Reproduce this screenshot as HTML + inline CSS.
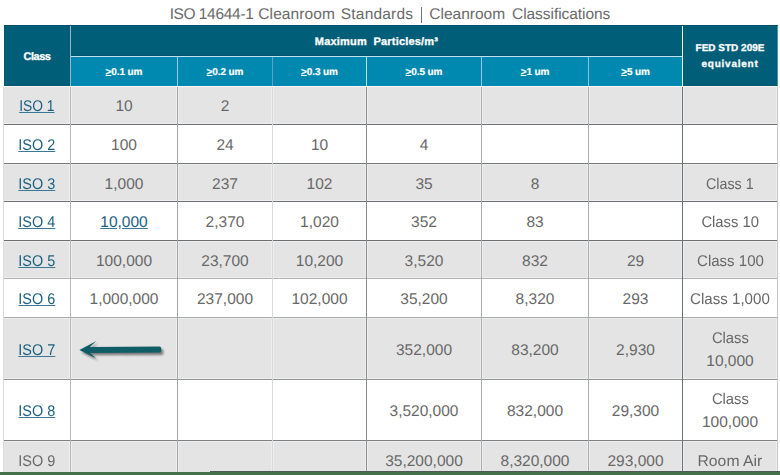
<!DOCTYPE html>
<html><head><meta charset="utf-8">
<style>
html,body{margin:0;padding:0;background:#fff;width:780px;height:475px;overflow:hidden;}
body{position:relative;font-family:"Liberation Sans",sans-serif;text-rendering:geometricPrecision;}
.a{position:absolute;}
.t{position:absolute;text-align:center;color:#686868;font-size:15.5px;white-space:nowrap;}
.lk{color:#1c6182;text-decoration:underline;text-decoration-color:#3a7896;text-underline-offset:1px;}
.h{position:absolute;text-align:center;color:#fff;font-weight:bold;white-space:nowrap;-webkit-text-stroke:0.3px #fff;}
</style></head><body>

<div class="t" style="left:169.8px;top:5px;line-height:20px;font-size:15.5px;color:#6a6a6a;text-align:left;letter-spacing:-0.5px">ISO</div>
<div class="t" style="left:198.8px;top:5px;line-height:20px;font-size:15.5px;color:#6a6a6a;text-align:left;letter-spacing:-0.3px">14644-1</div>
<div class="t" style="left:258.3px;top:5px;line-height:20px;font-size:15.5px;color:#6a6a6a;text-align:left;letter-spacing:0.1px">Cleanroom</div>
<div class="t" style="left:340.8px;top:5px;line-height:20px;font-size:15.5px;color:#6a6a6a;text-align:left;letter-spacing:0.2px">Standards</div>
<div class="t" style="left:429.3px;top:5px;line-height:20px;font-size:15.5px;color:#6a6a6a;text-align:left;letter-spacing:0px">Cleanroom</div>
<div class="t" style="left:512.0px;top:5px;line-height:20px;font-size:15.5px;color:#6a6a6a;text-align:left;letter-spacing:-0.05px">Classifications</div>
<div class="a" style="left:421px;top:7px;width:1.3px;height:15.5px;background:#707070"></div>
<div class="a" style="left:4px;top:25px;width:774px;height:61px;background:#005e79"></div>
<div class="a" style="left:71px;top:57px;width:611px;height:29px;background:#0089b0"></div>
<div class="a" style="left:71px;top:56px;width:611px;height:1px;background:#bfe2ee"></div>
<div class="a" style="left:70px;top:25px;width:1px;height:61px;background:#9bb6c6"></div>
<div class="a" style="left:682px;top:25px;width:1px;height:61px;background:#e8f2f4"></div>
<div class="a" style="left:177px;top:57px;width:1px;height:29px;background:#9cc8ea"></div>
<div class="a" style="left:272px;top:57px;width:1px;height:29px;background:#5fa3c2"></div>
<div class="a" style="left:366px;top:57px;width:1px;height:29px;background:#b8e0ee"></div>
<div class="a" style="left:481px;top:57px;width:1px;height:29px;background:#98c4e6"></div>
<div class="a" style="left:588px;top:57px;width:1px;height:29px;background:#8cc0e0"></div>
<div class="a" style="left:4px;top:25px;width:774px;height:1px;background:#00516b"></div>
<div class="a" style="left:4px;top:26px;width:1px;height:60px;background:#00586f"></div>
<div class="a" style="left:777px;top:26px;width:1px;height:60px;background:#4a98b0"></div>
<div class="a" style="left:776px;top:26px;width:1px;height:60px;background:#005873"></div>
<div class="a" style="left:5px;top:85px;width:65px;height:1px;background:#00566f"></div>
<div class="a" style="left:683px;top:85px;width:93px;height:1px;background:#00566f"></div>
<div class="a" style="left:71px;top:55px;width:611px;height:1px;background:#00566f"></div>
<div class="h" style="left:4px;width:66px;top:49px;line-height:16px;font-size:11px;letter-spacing:-0.5px">Class</div>
<div class="h" style="left:71px;width:611px;top:34px;line-height:16px;font-size:11px;letter-spacing:0.2px">Maximum&nbsp; Particles/m&sup3;</div>
<div class="h" style="left:71px;width:106px;top:65px;line-height:16px;font-size:10px;letter-spacing:-0.1px;-webkit-text-stroke:0.2px #fff"><u style="text-underline-offset:0px">&gt;</u>0.1 um</div>
<div class="h" style="left:178px;width:94px;top:65px;line-height:16px;font-size:10px;letter-spacing:-0.1px;-webkit-text-stroke:0.2px #fff"><u style="text-underline-offset:0px">&gt;</u>0.2 um</div>
<div class="h" style="left:273px;width:93px;top:65px;line-height:16px;font-size:10px;letter-spacing:-0.1px;-webkit-text-stroke:0.2px #fff"><u style="text-underline-offset:0px">&gt;</u>0.3 um</div>
<div class="h" style="left:367px;width:114px;top:65px;line-height:16px;font-size:10px;letter-spacing:-0.1px;-webkit-text-stroke:0.2px #fff"><u style="text-underline-offset:0px">&gt;</u>0.5 um</div>
<div class="h" style="left:482px;width:106px;top:65px;line-height:16px;font-size:10px;letter-spacing:-0.1px;-webkit-text-stroke:0.2px #fff"><u style="text-underline-offset:0px">&gt;</u>1 um</div>
<div class="h" style="left:589px;width:93px;top:65px;line-height:16px;font-size:10px;letter-spacing:-0.1px;-webkit-text-stroke:0.2px #fff"><u style="text-underline-offset:0px">&gt;</u>5 um</div>
<div class="h" style="left:683px;width:94px;top:41px;line-height:16px;font-size:10px">FED STD 209E<br><span style="letter-spacing:0.75px">equivalent</span></div>
<div class="a" style="left:3px;top:86px;width:775px;height:1px;background:#fbf6f4"></div>
<div class="a" style="left:3px;top:87px;width:775px;height:37px;background:#e4e4e4"></div>
<div class="a" style="left:3px;top:125px;width:775px;height:38px;background:#ffffff"></div>
<div class="a" style="left:3px;top:164px;width:775px;height:37px;background:#e4e4e4"></div>
<div class="a" style="left:3px;top:202px;width:775px;height:38px;background:#ffffff"></div>
<div class="a" style="left:3px;top:241px;width:775px;height:37px;background:#e4e4e4"></div>
<div class="a" style="left:3px;top:279px;width:775px;height:38px;background:#ffffff"></div>
<div class="a" style="left:3px;top:318px;width:775px;height:61px;background:#e4e4e4"></div>
<div class="a" style="left:3px;top:380px;width:775px;height:60px;background:#ffffff"></div>
<div class="a" style="left:3px;top:441px;width:775px;height:31px;background:#e4e4e4"></div>
<div class="a" style="left:4px;top:124px;width:774px;height:1px;background:#6d7175"></div>
<div class="a" style="left:4px;top:163px;width:774px;height:1px;background:#75797c"></div>
<div class="a" style="left:4px;top:201px;width:774px;height:1px;background:#6d7175"></div>
<div class="a" style="left:4px;top:240px;width:774px;height:1px;background:#6b6f72"></div>
<div class="a" style="left:4px;top:278px;width:774px;height:1px;background:#b1b2b4"></div>
<div class="a" style="left:4px;top:317px;width:774px;height:1px;background:#a9acae"></div>
<div class="a" style="left:4px;top:379px;width:774px;height:1px;background:#939699"></div>
<div class="a" style="left:4px;top:440px;width:774px;height:1px;background:#7d8184"></div>
<div class="a" style="left:4px;top:123px;width:773px;height:1px;background:#efefef"></div>
<div class="a" style="left:4px;top:164px;width:773px;height:1px;background:#eeeeee"></div>
<div class="a" style="left:4px;top:200px;width:773px;height:1px;background:#efefef"></div>
<div class="a" style="left:4px;top:241px;width:773px;height:1px;background:#eeeeee"></div>
<div class="a" style="left:4px;top:277px;width:773px;height:1px;background:#efefef"></div>
<div class="a" style="left:4px;top:318px;width:773px;height:1px;background:#eeeeee"></div>
<div class="a" style="left:4px;top:378px;width:773px;height:1px;background:#efefef"></div>
<div class="a" style="left:4px;top:441px;width:773px;height:1px;background:#eeeeee"></div>
<div class="a" style="left:69px;top:87px;width:1px;height:37px;background:#eeeeee"></div>
<div class="a" style="left:71px;top:87px;width:1px;height:37px;background:#eeeeee"></div>
<div class="a" style="left:176px;top:87px;width:1px;height:37px;background:#eeeeee"></div>
<div class="a" style="left:178px;top:87px;width:1px;height:37px;background:#eeeeee"></div>
<div class="a" style="left:271px;top:87px;width:1px;height:37px;background:#eeeeee"></div>
<div class="a" style="left:273px;top:87px;width:1px;height:37px;background:#eeeeee"></div>
<div class="a" style="left:365px;top:87px;width:1px;height:37px;background:#eeeeee"></div>
<div class="a" style="left:367px;top:87px;width:1px;height:37px;background:#eeeeee"></div>
<div class="a" style="left:480px;top:87px;width:1px;height:37px;background:#eeeeee"></div>
<div class="a" style="left:482px;top:87px;width:1px;height:37px;background:#eeeeee"></div>
<div class="a" style="left:587px;top:87px;width:1px;height:37px;background:#eeeeee"></div>
<div class="a" style="left:589px;top:87px;width:1px;height:37px;background:#eeeeee"></div>
<div class="a" style="left:681px;top:87px;width:1px;height:37px;background:#eeeeee"></div>
<div class="a" style="left:683px;top:87px;width:1px;height:37px;background:#eeeeee"></div>
<div class="a" style="left:776px;top:87px;width:1px;height:37px;background:#eeeeee"></div>
<div class="a" style="left:69px;top:164px;width:1px;height:37px;background:#eeeeee"></div>
<div class="a" style="left:71px;top:164px;width:1px;height:37px;background:#eeeeee"></div>
<div class="a" style="left:176px;top:164px;width:1px;height:37px;background:#eeeeee"></div>
<div class="a" style="left:178px;top:164px;width:1px;height:37px;background:#eeeeee"></div>
<div class="a" style="left:271px;top:164px;width:1px;height:37px;background:#eeeeee"></div>
<div class="a" style="left:273px;top:164px;width:1px;height:37px;background:#eeeeee"></div>
<div class="a" style="left:365px;top:164px;width:1px;height:37px;background:#eeeeee"></div>
<div class="a" style="left:367px;top:164px;width:1px;height:37px;background:#eeeeee"></div>
<div class="a" style="left:480px;top:164px;width:1px;height:37px;background:#eeeeee"></div>
<div class="a" style="left:482px;top:164px;width:1px;height:37px;background:#eeeeee"></div>
<div class="a" style="left:587px;top:164px;width:1px;height:37px;background:#eeeeee"></div>
<div class="a" style="left:589px;top:164px;width:1px;height:37px;background:#eeeeee"></div>
<div class="a" style="left:681px;top:164px;width:1px;height:37px;background:#eeeeee"></div>
<div class="a" style="left:683px;top:164px;width:1px;height:37px;background:#eeeeee"></div>
<div class="a" style="left:776px;top:164px;width:1px;height:37px;background:#eeeeee"></div>
<div class="a" style="left:69px;top:241px;width:1px;height:37px;background:#eeeeee"></div>
<div class="a" style="left:71px;top:241px;width:1px;height:37px;background:#eeeeee"></div>
<div class="a" style="left:176px;top:241px;width:1px;height:37px;background:#eeeeee"></div>
<div class="a" style="left:178px;top:241px;width:1px;height:37px;background:#eeeeee"></div>
<div class="a" style="left:271px;top:241px;width:1px;height:37px;background:#eeeeee"></div>
<div class="a" style="left:273px;top:241px;width:1px;height:37px;background:#eeeeee"></div>
<div class="a" style="left:365px;top:241px;width:1px;height:37px;background:#eeeeee"></div>
<div class="a" style="left:367px;top:241px;width:1px;height:37px;background:#eeeeee"></div>
<div class="a" style="left:480px;top:241px;width:1px;height:37px;background:#eeeeee"></div>
<div class="a" style="left:482px;top:241px;width:1px;height:37px;background:#eeeeee"></div>
<div class="a" style="left:587px;top:241px;width:1px;height:37px;background:#eeeeee"></div>
<div class="a" style="left:589px;top:241px;width:1px;height:37px;background:#eeeeee"></div>
<div class="a" style="left:681px;top:241px;width:1px;height:37px;background:#eeeeee"></div>
<div class="a" style="left:683px;top:241px;width:1px;height:37px;background:#eeeeee"></div>
<div class="a" style="left:776px;top:241px;width:1px;height:37px;background:#eeeeee"></div>
<div class="a" style="left:69px;top:318px;width:1px;height:61px;background:#eeeeee"></div>
<div class="a" style="left:71px;top:318px;width:1px;height:61px;background:#eeeeee"></div>
<div class="a" style="left:176px;top:318px;width:1px;height:61px;background:#eeeeee"></div>
<div class="a" style="left:178px;top:318px;width:1px;height:61px;background:#eeeeee"></div>
<div class="a" style="left:271px;top:318px;width:1px;height:61px;background:#eeeeee"></div>
<div class="a" style="left:273px;top:318px;width:1px;height:61px;background:#eeeeee"></div>
<div class="a" style="left:365px;top:318px;width:1px;height:61px;background:#eeeeee"></div>
<div class="a" style="left:367px;top:318px;width:1px;height:61px;background:#eeeeee"></div>
<div class="a" style="left:480px;top:318px;width:1px;height:61px;background:#eeeeee"></div>
<div class="a" style="left:482px;top:318px;width:1px;height:61px;background:#eeeeee"></div>
<div class="a" style="left:587px;top:318px;width:1px;height:61px;background:#eeeeee"></div>
<div class="a" style="left:589px;top:318px;width:1px;height:61px;background:#eeeeee"></div>
<div class="a" style="left:681px;top:318px;width:1px;height:61px;background:#eeeeee"></div>
<div class="a" style="left:683px;top:318px;width:1px;height:61px;background:#eeeeee"></div>
<div class="a" style="left:776px;top:318px;width:1px;height:61px;background:#eeeeee"></div>
<div class="a" style="left:69px;top:441px;width:1px;height:31px;background:#eeeeee"></div>
<div class="a" style="left:71px;top:441px;width:1px;height:31px;background:#eeeeee"></div>
<div class="a" style="left:176px;top:441px;width:1px;height:31px;background:#eeeeee"></div>
<div class="a" style="left:178px;top:441px;width:1px;height:31px;background:#eeeeee"></div>
<div class="a" style="left:271px;top:441px;width:1px;height:31px;background:#eeeeee"></div>
<div class="a" style="left:273px;top:441px;width:1px;height:31px;background:#eeeeee"></div>
<div class="a" style="left:365px;top:441px;width:1px;height:31px;background:#eeeeee"></div>
<div class="a" style="left:367px;top:441px;width:1px;height:31px;background:#eeeeee"></div>
<div class="a" style="left:480px;top:441px;width:1px;height:31px;background:#eeeeee"></div>
<div class="a" style="left:482px;top:441px;width:1px;height:31px;background:#eeeeee"></div>
<div class="a" style="left:587px;top:441px;width:1px;height:31px;background:#eeeeee"></div>
<div class="a" style="left:589px;top:441px;width:1px;height:31px;background:#eeeeee"></div>
<div class="a" style="left:681px;top:441px;width:1px;height:31px;background:#eeeeee"></div>
<div class="a" style="left:683px;top:441px;width:1px;height:31px;background:#eeeeee"></div>
<div class="a" style="left:776px;top:441px;width:1px;height:31px;background:#eeeeee"></div>
<div class="a" style="left:70px;top:87px;width:1px;height:385px;background:#b8b8bb"></div>
<div class="a" style="left:177px;top:87px;width:1px;height:385px;background:#a2a5a8"></div>
<div class="a" style="left:272px;top:87px;width:1px;height:385px;background:#d7dadd"></div>
<div class="a" style="left:366px;top:87px;width:1px;height:385px;background:#8a8e91"></div>
<div class="a" style="left:481px;top:87px;width:1px;height:385px;background:#aaadb0"></div>
<div class="a" style="left:588px;top:87px;width:1px;height:385px;background:#aaadb0"></div>
<div class="a" style="left:682px;top:87px;width:1px;height:385px;background:#6b7075"></div>
<div class="a" style="left:777px;top:87px;width:1px;height:385px;background:#c6c7ca"></div>
<div class="a" style="left:3px;top:87px;width:1px;height:385px;background:#dadcde"></div>
<div class="t" style="left:3px;width:67px;top:97px;line-height:20px"><span class="lk" style="display:inline-block;transform:scaleX(0.892)">ISO 1</span></div>
<div class="t" style="left:71px;width:106px;top:97px;line-height:20px">10</div>
<div class="t" style="left:178px;width:94px;top:97px;line-height:20px">2</div>
<div class="t" style="left:3px;width:67px;top:136px;line-height:20px"><span class="lk" style="display:inline-block;transform:scaleX(0.932)">ISO 2</span></div>
<div class="t" style="left:71px;width:106px;top:136px;line-height:20px">100</div>
<div class="t" style="left:178px;width:94px;top:136px;line-height:20px">24</div>
<div class="t" style="left:273px;width:93px;top:136px;line-height:20px">10</div>
<div class="t" style="left:367px;width:114px;top:136px;line-height:20px">4</div>
<div class="t" style="left:3px;width:67px;top:175px;line-height:20px"><span class="lk" style="display:inline-block;transform:scaleX(0.932)">ISO 3</span></div>
<div class="t" style="left:71px;width:106px;top:175px;line-height:20px">1,000</div>
<div class="t" style="left:178px;width:94px;top:175px;line-height:20px">237</div>
<div class="t" style="left:273px;width:93px;top:175px;line-height:20px">102</div>
<div class="t" style="left:367px;width:114px;top:175px;line-height:20px">35</div>
<div class="t" style="left:482px;width:106px;top:175px;line-height:20px">8</div>
<div class="t" style="left:683px;width:94px;top:175px;line-height:20px"><span style="display:inline-block;transform:scaleX(0.922)">Class 1</span></div>
<div class="t" style="left:3px;width:67px;top:213px;line-height:20px"><span class="lk" style="display:inline-block;transform:scaleX(0.932)">ISO 4</span></div>
<div class="t" style="left:71px;width:106px;top:213px;line-height:20px"><span class="lk" style="display:inline-block;transform:scaleX(1)">10,000</span></div>
<div class="t" style="left:178px;width:94px;top:213px;line-height:20px">2,370</div>
<div class="t" style="left:273px;width:93px;top:213px;line-height:20px">1,020</div>
<div class="t" style="left:367px;width:114px;top:213px;line-height:20px">352</div>
<div class="t" style="left:482px;width:106px;top:213px;line-height:20px">83</div>
<div class="t" style="left:683px;width:94px;top:213px;line-height:20px"><span style="display:inline-block;transform:scaleX(0.954)">Class 10</span></div>
<div class="t" style="left:3px;width:67px;top:252px;line-height:20px"><span class="lk" style="display:inline-block;transform:scaleX(0.932)">ISO 5</span></div>
<div class="t" style="left:71px;width:106px;top:252px;line-height:20px">100,000</div>
<div class="t" style="left:178px;width:94px;top:252px;line-height:20px">23,700</div>
<div class="t" style="left:273px;width:93px;top:252px;line-height:20px">10,200</div>
<div class="t" style="left:367px;width:114px;top:252px;line-height:20px">3,520</div>
<div class="t" style="left:482px;width:106px;top:252px;line-height:20px">832</div>
<div class="t" style="left:589px;width:93px;top:252px;line-height:20px">29</div>
<div class="t" style="left:683px;width:94px;top:252px;line-height:20px"><span style="display:inline-block;transform:scaleX(0.969)">Class 100</span></div>
<div class="t" style="left:3px;width:67px;top:290px;line-height:20px"><span class="lk" style="display:inline-block;transform:scaleX(0.932)">ISO 6</span></div>
<div class="t" style="left:71px;width:106px;top:290px;line-height:20px">1,000,000</div>
<div class="t" style="left:178px;width:94px;top:290px;line-height:20px">237,000</div>
<div class="t" style="left:273px;width:93px;top:290px;line-height:20px">102,000</div>
<div class="t" style="left:367px;width:114px;top:290px;line-height:20px">35,200</div>
<div class="t" style="left:482px;width:106px;top:290px;line-height:20px">8,320</div>
<div class="t" style="left:589px;width:93px;top:290px;line-height:20px">293</div>
<div class="t" style="left:683px;width:94px;top:290px;line-height:20px"><span style="display:inline-block;transform:scaleX(0.975)">Class 1,000</span></div>
<div class="t" style="left:3px;width:67px;top:341px;line-height:20px"><span class="lk" style="display:inline-block;transform:scaleX(0.932)">ISO 7</span></div>
<div class="t" style="left:367px;width:114px;top:341px;line-height:20px">352,000</div>
<div class="t" style="left:482px;width:106px;top:341px;line-height:20px">83,200</div>
<div class="t" style="left:589px;width:93px;top:341px;line-height:20px">2,930</div>
<div class="t" style="left:683px;width:94px;top:327px;line-height:23px"><span style="display:inline-block;transform:scaleX(0.954)">Class</span><br>10,000</div>
<div class="t" style="left:3px;width:67px;top:402px;line-height:20px"><span class="lk" style="display:inline-block;transform:scaleX(0.932)">ISO 8</span></div>
<div class="t" style="left:367px;width:114px;top:402px;line-height:20px">3,520,000</div>
<div class="t" style="left:482px;width:106px;top:402px;line-height:20px">832,000</div>
<div class="t" style="left:589px;width:93px;top:402px;line-height:20px">29,300</div>
<div class="t" style="left:683px;width:94px;top:388px;line-height:23px"><span style="display:inline-block;transform:scaleX(0.954)">Class</span><br>100,000</div>
<div class="t" style="left:3px;width:67px;top:452px;line-height:20px"><span style="display:inline-block;transform:scaleX(0.932)">ISO 9</span></div>
<div class="t" style="left:367px;width:114px;top:452px;line-height:20px">35,200,000</div>
<div class="t" style="left:482px;width:106px;top:452px;line-height:20px">8,320,000</div>
<div class="t" style="left:589px;width:93px;top:452px;line-height:20px">293,000</div>
<div class="t" style="left:683px;width:94px;top:452px;line-height:20px"><span style="display:inline-block;transform:scaleX(1.016)">Room Air</span></div>
<svg class="a" style="left:70px;top:330px" width="110" height="40" viewBox="0 0 110 40">
<defs><filter id="sh" x="-20%" y="-50%" width="140%" height="200%"><feGaussianBlur stdDeviation="1.3"/></filter></defs>
<g transform="translate(2.2,2.3)" opacity="0.55" filter="url(#sh)"><path d="M9.4 20.1 L26.3 11.0 L19.8 16.9 L89.5 16.6 Q91.2 16.6 91.2 18.6 L91.2 20.6 Q91.2 22.6 89.5 22.6 L19.8 23.0 L26.3 28.4 Z" fill="#222"/></g>
<path d="M9.4 20.1 L26.3 11.0 L19.8 16.9 L89.5 16.6 Q91.2 16.6 91.2 18.6 L91.2 20.6 Q91.2 22.6 89.5 22.6 L19.8 23.0 L26.3 28.4 Z" fill="#0f5d66"/>
</svg>
<div class="a" style="left:0;top:472px;width:780px;height:3px;background:#44704a"></div>
<div class="a" style="left:210px;top:471px;width:570px;height:1px;background:#4f5a58"></div>
</body></html>
